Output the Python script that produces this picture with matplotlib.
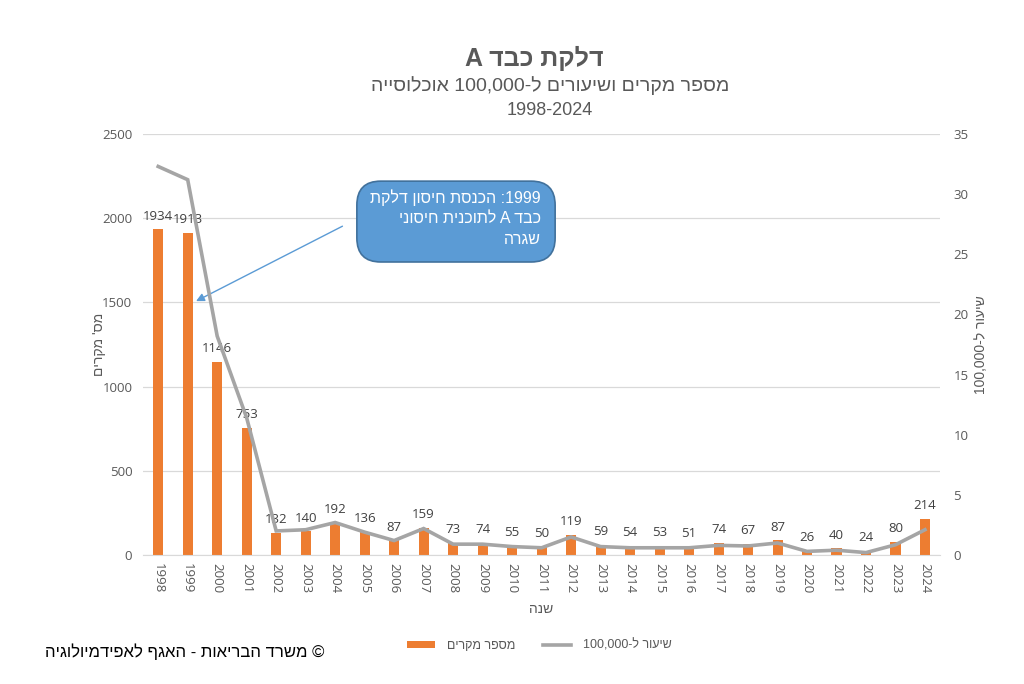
import re
import matplotlib
matplotlib.use("Agg")
import matplotlib.pyplot as plt
import numpy as np
from matplotlib.patches import FancyBboxPatch

plt.rcParams['font.family'] = ['Open Sans', 'Liberation Sans', 'DejaVu Sans']
HEB = ['Liberation Sans', 'DejaVu Sans']

# data
years = list(range(1998, 2025))
cases = [1934, 1913, 1146, 753, 132, 140, 192, 136, 87, 159, 73, 74, 55, 50,
         119, 59, 54, 53, 51, 74, 67, 87, 26, 40, 24, 80, 214]
rate = [32.3, 31.2, 18.2, 11.4, 2.0, 2.1, 2.7, 1.9, 1.2, 2.2, 0.9, 0.9, 0.7, 0.6,
        1.5, 0.7, 0.6, 0.6, 0.6, 0.8, 0.75, 1.0, 0.3, 0.4, 0.2, 0.85, 2.1]

title = "דלקת כבד A"
subtitle = "מספר מקרים ושיעורים ל-100,000 אוכלוסייה"
period = "1998-2024"
ylabel_left = "מס' מקרים"
ylabel_right = "שיעור ל-100,000"
xlabel = "שנה"
label_cases = "מספר מקרים"
label_rate = "שיעור ל-100,000"
note_lines = ["1999: הכנסת חיסון דלקת", "כבד A לתוכנית חיסוני", "שגרה"]
credit = "© משרד הבריאות - האגף לאפידמיולוגיה"


def vis(s):
    # simple bidi: keep latin/digit runs LTR, reverse the rest
    parts = re.split(r'([0-9A-Za-z](?:[0-9A-Za-z,.\-]*[0-9A-Za-z])?)', s)
    out = []
    for p in parts:
        if not p:
            continue
        if re.match(r'[0-9A-Za-z]', p):
            out.append(p)
        else:
            out.append(p[::-1])
    return ''.join(out[::-1])


orange = '#ED7D31'
grey = '#A5A5A5'
txt = '#595959'

fig = plt.figure(figsize=(10.24, 6.84), dpi=100)
ax = fig.add_axes([0.1401, 0.1886, 0.7776, 0.6155])
ax2 = ax.twinx()

x = np.arange(len(years))
bars = ax.bar(x, cases, width=0.34, color=orange, zorder=2, label=vis(label_cases))
for xi, v in zip(x, cases):
    ax.text(xi, v + 40, str(v), ha='center', va='bottom', fontsize=9.5, color='#404040', zorder=3)

line, = ax2.plot(x, rate, color=grey, lw=2.6, label=vis(label_rate), solid_joinstyle='miter')

ax.set_xlim(-0.5, len(years) - 0.5)
ax.set_ylim(0, 2500)
ax2.set_ylim(0, 35)
ax.set_yticks(range(0, 2501, 500))
ax2.set_yticks(range(0, 36, 5))
ax.set_xticks(x)
ax.set_xticklabels([str(y) for y in years], rotation=-90, fontsize=9.5, color=txt)
ax.tick_params(axis='both', length=0, pad=8, colors=txt, labelsize=9.5)
ax.tick_params(axis='x', pad=6)
ax2.tick_params(axis='y', length=0, pad=10, colors=txt, labelsize=9.5)
ax.grid(axis='y', color='#D9D9D9', lw=0.9, zorder=0)
ax.set_axisbelow(True)
for a in (ax, ax2):
    for s in a.spines.values():
        s.set_visible(False)
ax.spines['bottom'].set_visible(True)
ax.spines['bottom'].set_color('#D9D9D9')

ax.set_ylabel(vis(ylabel_left), family=HEB, fontsize=10, color=txt, rotation=90, labelpad=-3)
ax2.set_ylabel(vis(ylabel_right), family=HEB, fontsize=10, color=txt, rotation=90, labelpad=4)
ax.set_xlabel(vis(xlabel), family=HEB, fontsize=10, color=txt, labelpad=6)

fig.text(0.522, 0.915, vis(title), family=HEB, fontsize=18, fontweight='bold', color=txt, ha='center', va='center')
fig.text(0.537, 0.875, vis(subtitle), family=HEB, fontsize=14, color=txt, ha='center', va='center')
fig.text(0.537, 0.839, period, family=HEB, fontsize=13, color=txt, ha='center', va='center')

# callout
box = FancyBboxPatch((0.268, 0.696), 0.249, 0.192, boxstyle='round,pad=0,rounding_size=0.03',
                     transform=ax.transAxes, facecolor='#5B9BD5', edgecolor='#41719C', lw=1.2, zorder=5,
                     mutation_aspect=1.9)
ax.add_patch(box)
for i, ln in enumerate(note_lines):
    ax.text(0.499, 0.848 - i * 0.049, vis(ln), family=HEB, fontsize=11.5, color='white',
            ha='right', va='center', transform=ax.transAxes, zorder=6)
ax.annotate('', xy=(1.2, 1500), xycoords='data', xytext=(0.253, 0.784), textcoords='axes fraction',
            arrowprops=dict(arrowstyle='-|>', color='#5B9BD5', lw=1, mutation_scale=12), zorder=4)

fig.legend(handles=[bars, line], loc='center', bbox_to_anchor=(0.527, 0.056), ncol=2, frameon=False,
           prop={'family': HEB, 'size': 9}, labelcolor=txt, handlelength=2.2, handleheight=0.5,
           columnspacing=2.2, handletextpad=1.0)

fig.text(0.044, 0.047, vis(credit), family=HEB, fontsize=12, color='black', ha='left', va='center')

fig.savefig('out.png', dpi=100)
